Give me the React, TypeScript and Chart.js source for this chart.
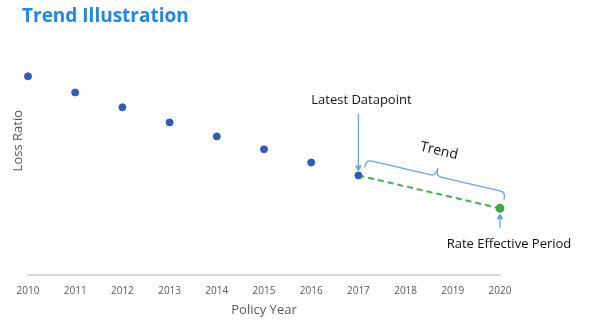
import React, { useEffect, useRef } from 'react';
import { Chart, registerables } from 'chart.js';

Chart.register(...registerables);

const tickYears = [2010, 2011, 2012, 2013, 2014, 2015, 2016, 2017, 2018, 2019, 2020];
const historyYears = [2010, 2011, 2012, 2013, 2014, 2015, 2016, 2017];
const lossRatios = [0.739, 0.679, 0.624, 0.568, 0.516, 0.468, 0.419, 0.371];
const trendYears = [2017, 2020];
const trendValues = [0.371, 0.249];

const chartTitle = 'Trend Illustration';
const xTitle = 'Policy Year';
const yTitle = 'Loss Ratio';
const latestLabel = 'Latest Datapoint';
const trendLabel = 'Trend';
const rateLabel = 'Rate Effective Period';

const FONT = '"Open Sans", "Noto Sans", sans-serif';
const ANNOT_BLUE = '#62A6EC';

const annotationPlugin = {
  id: 'trendAnnotations',
  afterDatasetsDraw(chart: any) {
    const ctx = chart.ctx as CanvasRenderingContext2D;
    const xs = chart.scales.x;
    const ys = chart.scales.y;
    const x0 = xs.getPixelForValue(trendYears[0]);
    const y0 = ys.getPixelForValue(trendValues[0]);
    const x1 = xs.getPixelForValue(trendYears[1]);
    const y1 = ys.getPixelForValue(trendValues[1]);
    ctx.save();

    // Title
    ctx.font = `bold 19px ${FONT}`;
    ctx.fillStyle = '#1E86F2';
    ctx.textAlign = 'left';
    ctx.textBaseline = 'middle';
    ctx.fillText(chartTitle, 22, 17);

    // Latest datapoint label and arrow
    ctx.font = `13px ${FONT}`;
    ctx.fillStyle = '#111111';
    ctx.textAlign = 'center';
    ctx.fillText(latestLabel, x0 + 3, y0 - 75);

    ctx.strokeStyle = ANNOT_BLUE;
    ctx.fillStyle = ANNOT_BLUE;
    ctx.lineWidth = 1.3;
    ctx.beginPath();
    ctx.moveTo(x0, y0 - 62);
    ctx.lineTo(x0, y0 - 9);
    ctx.stroke();
    ctx.beginPath();
    ctx.moveTo(x0 - 3.5, y0 - 10);
    ctx.lineTo(x0 + 3.5, y0 - 10);
    ctx.lineTo(x0, y0 - 4);
    ctx.closePath();
    ctx.fill();

    // Rate effective period arrow and label
    ctx.beginPath();
    ctx.moveTo(x1, y1 + 20);
    ctx.lineTo(x1, y1 + 10);
    ctx.stroke();
    ctx.beginPath();
    ctx.moveTo(x1 - 3.5, y1 + 11);
    ctx.lineTo(x1 + 3.5, y1 + 11);
    ctx.lineTo(x1, y1 + 5);
    ctx.closePath();
    ctx.fill();

    ctx.fillStyle = '#111111';
    ctx.fillText(rateLabel, x1 + 9, y1 + 36);

    // Brace, rotated along the trend line
    const ang = Math.atan2(y1 - y0, x1 - x0);
    const L = Math.hypot(x1 - x0, y1 - y0);
    ctx.translate(x0, y0);
    ctx.rotate(ang);
    const u0 = 4;
    const u1 = L + 2;
    const mid = (u0 + u1) / 2;
    const vEnd = -9;
    const vMain = -17;
    const vTip = -25;
    ctx.strokeStyle = ANNOT_BLUE;
    ctx.lineWidth = 1.3;
    ctx.beginPath();
    ctx.moveTo(u0, vEnd);
    ctx.quadraticCurveTo(u0, vMain, u0 + 5, vMain);
    ctx.lineTo(mid - 5, vMain);
    ctx.quadraticCurveTo(mid, vMain, mid, vTip);
    ctx.quadraticCurveTo(mid, vMain, mid + 5, vMain);
    ctx.lineTo(u1 - 5, vMain);
    ctx.quadraticCurveTo(u1, vMain, u1, vEnd);
    ctx.stroke();

    ctx.font = `14px ${FONT}`;
    ctx.fillStyle = '#111111';
    ctx.textAlign = 'center';
    ctx.textBaseline = 'middle';
    ctx.fillText(trendLabel, 73, -42);

    ctx.restore();
  },
};

export default function App() {
  const canvasRef = useRef<HTMLCanvasElement | null>(null);

  useEffect(() => {
    if (!canvasRef.current) return;
    const chart = new Chart(canvasRef.current, {
      type: 'scatter',
      data: {
        datasets: [
          {
            label: 'Loss Ratio',
            data: historyYears.map((x, i) => ({ x, y: lossRatios[i] })),
            pointRadius: 3.5,
            pointBackgroundColor: '#2E5BBF',
            pointBorderColor: '#2E5BBF',
            showLine: false,
            clip: false,
            order: 1,
          },
          {
            label: 'Trend',
            type: 'line',
            data: trendYears.map((x, i) => ({ x, y: trendValues[i] })),
            borderColor: '#3DB54A',
            borderWidth: 2,
            borderDash: [6, 4],
            pointRadius: [0, 3.5],
            pointBackgroundColor: '#3BAA44',
            pointBorderColor: '#3BAA44',
            fill: false,
            clip: false,
            order: 2,
          },
        ],
      } as any,
      options: {
        animation: false,
        responsive: false,
        layout: { padding: { left: 0, right: 100, top: 0, bottom: 6 } },
        plugins: {
          legend: { display: false },
          tooltip: { enabled: false },
          title: { display: false },
        },
        scales: {
          x: {
            type: 'linear',
            min: tickYears[0],
            max: tickYears[tickYears.length - 1],
            offset: false,
            afterBuildTicks: (scale: any) => {
              scale.ticks = tickYears.map((v) => ({ value: v }));
            },
            ticks: {
              callback: (v: any) => String(v),
              font: { family: FONT, size: 10, lineHeight: 1 },
              color: '#595959',
              padding: 3,
              maxRotation: 0,
              autoSkip: false,
            },
            grid: { display: false },
            border: { display: true, color: '#D9D9D9', width: 2 },
            title: {
              display: true,
              text: xTitle,
              font: { family: FONT, size: 13 },
              color: '#595959',
              padding: { top: 3, bottom: 0 },
            },
          },
          y: {
            min: 0,
            max: 1,
            afterFit: (scale: any) => {
              scale.width = 28;
            },
            ticks: { display: false },
            grid: { display: false },
            border: { display: false },
            title: {
              display: true,
              text: yTitle,
              font: { family: FONT, size: 13 },
              color: '#595959',
              padding: { top: 10, bottom: 0 },
            },
          },
        },
      } as any,
      plugins: [annotationPlugin],
    });
    return () => chart.destroy();
  }, []);

  return (
    <div style={{ position: 'absolute', left: 0, top: 0, width: 600, height: 324, background: '#ffffff' }}>
      <canvas ref={canvasRef} width={600} height={324} />
    </div>
  );
}
